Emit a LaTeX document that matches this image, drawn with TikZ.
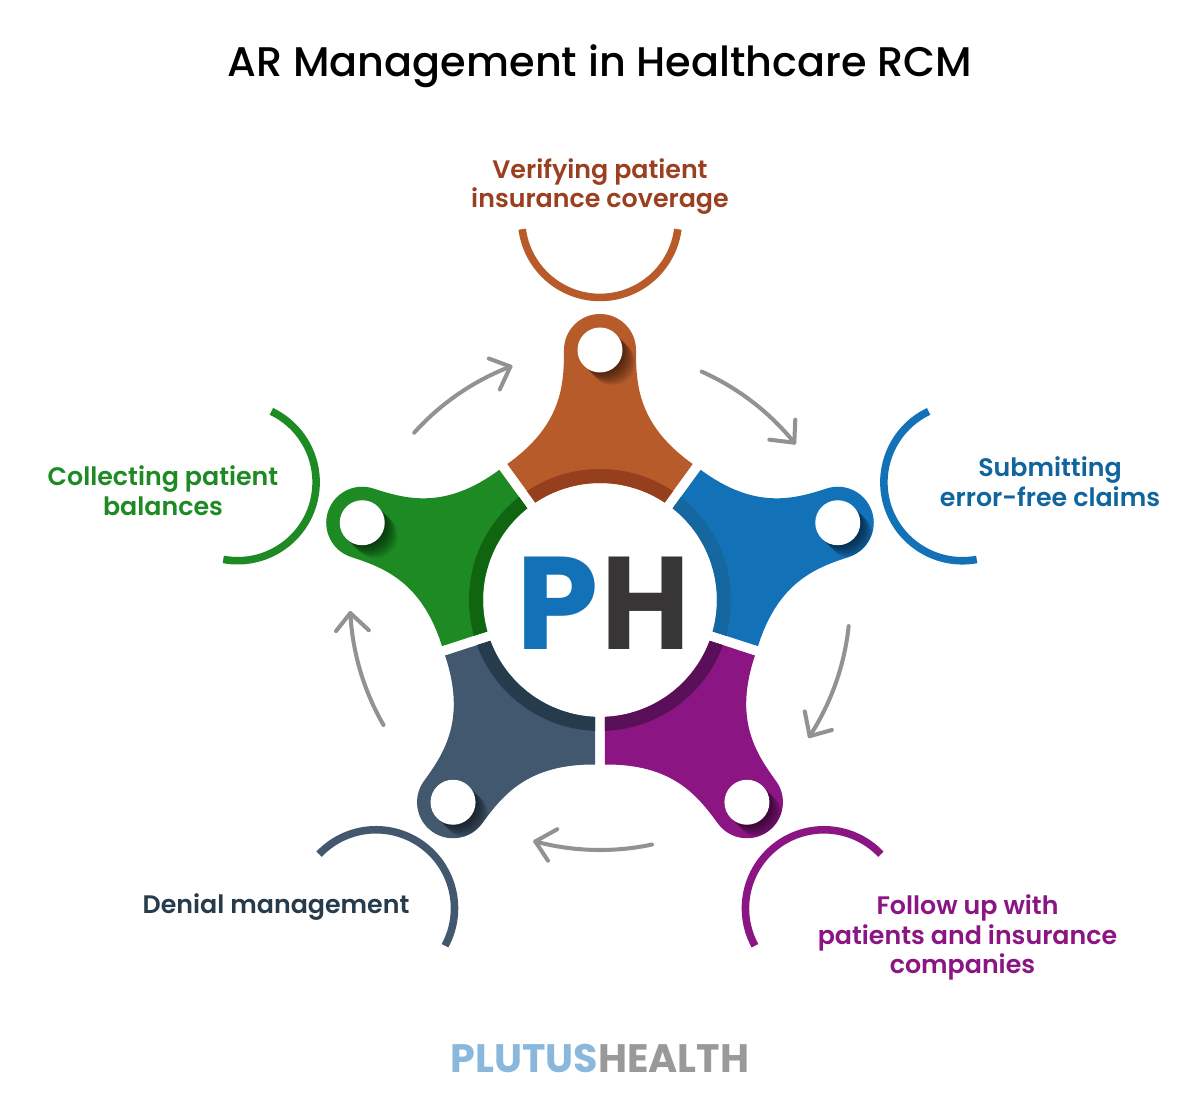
\documentclass[tikz,border=0pt]{standalone}
\usepackage{fontspec}
\usetikzlibrary{calc}
\setmainfont{Poppins}[BoldFont={Poppins SemiBold}]
\newfontfamily\fatfont{Poppins}[UprightFont={* Bold}]
\newfontfamily\medfont{Poppins Medium}
\definecolor{cbrown}{HTML}{B85B2B}\definecolor{dbrown}{HTML}{963F1E}\definecolor{tbrown}{HTML}{9A3F1F}
\definecolor{cblue}{HTML}{1371B8}\definecolor{dblue}{HTML}{14689F}\definecolor{tblue}{HTML}{10659F}
\definecolor{cpurple}{HTML}{8A1583}\definecolor{dpurple}{HTML}{5A1058}
\definecolor{cslate}{HTML}{42586F}\definecolor{dslate}{HTML}{263B4C}
\definecolor{cgreen}{HTML}{1D8A24}\definecolor{dgreen}{HTML}{106510}
\definecolor{cgrey}{HTML}{929292}\definecolor{logoblue}{HTML}{8AB8DC}\definecolor{logogrey}{HTML}{999999}\definecolor{inkdark}{HTML}{373536}
\tikzset{
 lbl/.style={align=center,inner sep=0pt,font=\fontsize{14.4}{17}\selectfont\bfseries},
 arcline/.style={line width=4.3pt},
 flow/.style={draw=cgrey,line width=2.3pt,line cap=round,line join=round},
}
\def\petalpath{(123.6:117) -- (-92.7,136) .. controls (-38,175) and (-36,215) .. (-36,250) arc[start angle=180,end angle=0,radius=36] .. controls (36,215) and (38,175) .. (92.7,136) -- (56.4:117) arc[start angle=56.4,end angle=123.6,radius=117] -- cycle}
\begin{document}
\begin{tikzpicture}[x=0.02cm,y=0.02cm]
\useasboundingbox (-600,-498) rectangle (600,600);
\fill[white] (-600,-498) rectangle (600,600);
% petals
\foreach \r/\c/\d in {0/cbrown/dbrown,-72/cblue/dblue,-144/cpurple/dpurple,-216/cslate/dslate,-288/cgreen/dgreen}{
  \fill[\c,rotate=\r] \petalpath;
  \begin{scope}
    \path[clip,rotate=\r] \petalpath;
    \fill[\d] (0,0) circle[radius=131];
    \coordinate (h) at ({90+\r}:250);
    \foreach \i in {1,...,13}{
      \fill[black,opacity=.055] ($(h)+(\i,-\i)$) circle[radius=22.5];
    }
  \end{scope}
  \fill[white] ({90+\r}:250) circle[radius=22.5];
  % outer brackets
  \draw[\c,arcline,rotate=\r] (-77.8,370.8) arc[start angle=187.5,end angle=352.5,radius=78.5];
}
% flow arrows
\foreach \r in {0,-72,-144,-216,-288}{
  \begin{scope}[rotate=\r]
    \coordinate (as) at (66:250);
    \coordinate (at) at (39:250);
    \draw[flow] (as) arc[start angle=66,end angle=39,radius=250];
    \draw[flow] ($(at)+(-25,3)$) -- (at) -- ($(at)+(1,23)$);
  \end{scope}
}
% centre
\node[inner sep=0pt,text=cblue] (p) at (-42.5,-3) {\fontsize{75}{75}\selectfont\fatfont P};
\node[inner sep=0pt,text=inkdark,xscale=.92] (hh) at (45.5,-3) {\fontsize{75}{75}\selectfont\fatfont H};
% texts
\node[inner sep=0pt] (title) at (0,534) {\fontsize{23.56}{28}\selectfont\medfont AR Management in Healthcare RCM};
\node[lbl,text=tbrown] (l1) at (0,413.5) {Verifying patient\\insurance coverage};
\node[lbl,text=tblue] (l2) at (450,118) {Submitting\\error-free claims};
\node[lbl,text=cpurple] (l3) at (367.5,-337.5) {Follow up with\\patients and insurance\\companies\hspace*{5.7pt}};
\node[lbl,text=dslate] (l4) at (-324,-307.5) {Denial management};
\node[lbl,text=cgreen] (l5) at (-437,109) {Collecting patient\\balances};
\node[inner sep=0pt] (logo) at (0,-459) {\fontsize{22.6}{28}\selectfont\fatfont\textcolor{logoblue}{PLUTUS}\textcolor{logogrey}{HEALTH}};
\end{tikzpicture}
\end{document}
